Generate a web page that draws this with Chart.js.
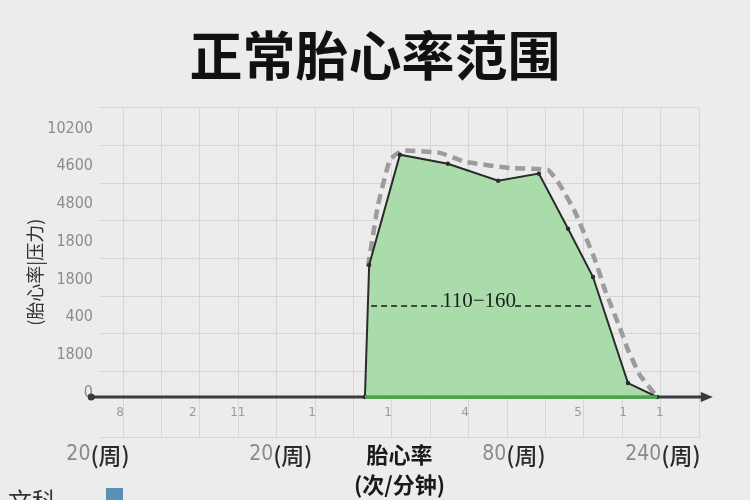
<!DOCTYPE html>
<html>
<head>
<meta charset="utf-8">
<title>正常胎心率范围</title>
<script src="https://cdn.jsdelivr.net/npm/chart.js@4.4.1/dist/chart.umd.min.js"></script>
<style>
    body { margin: 0; background: #ececec; }
    #wrap { width: 750px; height: 500px; }
</style>
</head>
<body>
<div id="wrap"><canvas id="chart"></canvas></div>
<script>
// y tick labels, bottom to top (as printed in the picture)
const yLabels = ['0', '1800', '400', '1800', '1800', '4800', '4600', '10200'];

// main curve (x in grid columns, y in grid rows above the axis)
const heartX = [6.30, 6.41, 7.21, 8.46, 9.77, 10.83, 11.59, 12.24, 13.15, 13.91];
const heartY = [0, 3.50, 6.42, 6.18, 5.73, 5.92, 4.46, 3.18, 0.37, 0];

// grey dashed outline
const outlineX = [6.38, 6.64, 6.95, 7.27, 8.26, 8.91, 10.08, 11.07, 11.38, 11.77, 12.29, 12.55, 12.94, 13.15, 13.46, 13.91];
const outlineY = [3.45, 5.09, 6.29, 6.53, 6.47, 6.23, 6.07, 6.02, 5.62, 4.91, 3.64, 2.84, 1.83, 1.25, 0.58, 0];

// 110-160 band marker
const rangeText = '110\u2212160';
const rangeX = [6.46, 8.33, 9.27, 10.21, 12.21];
const rangeY = [2.41, 2.41, null, 2.41, 2.41];

// small marks under the axis
const minorLabels = ['8', '2', '11', '1', '1', '4', '5', '1', '1'];
const minorPos = [-0.08, 1.82, 2.99, 4.92, 6.90, 8.91, 11.85, 13.02, 13.98];

// bottom labels
const bottomNums = ['20', '20', '80', '240'];
const bottomPos = [-0.65, 4.11, 10.18, 14.06];
const bottomUnit = '(周)';

const legendText = '文科';

function toPoints(xs, ys) {
    return xs.map((x, i) => ({ x: x, y: ys[i] }));
}

const axisPlugin = {
    id: 'axisLine',
    beforeDatasetsDraw(chart) {
        const ctx = chart.ctx;
        const x = chart.scales.x;
        const y = chart.scales.y;
        const y0 = y.getPixelForValue(0);
        const x0 = x.getPixelForValue(-0.83);
        const x1 = x.getPixelForValue(15.36);
        ctx.save();
        ctx.strokeStyle = '#3a3a3a';
        ctx.fillStyle = '#3a3a3a';
        ctx.lineWidth = 3;
        ctx.beginPath();
        ctx.moveTo(x0, y0);
        ctx.lineTo(x1 - 8, y0);
        ctx.stroke();
        ctx.beginPath();
        ctx.moveTo(x1, y0);
        ctx.lineTo(x1 - 12, y0 - 5);
        ctx.lineTo(x1 - 12, y0 + 5);
        ctx.closePath();
        ctx.fill();
        ctx.beginPath();
        ctx.arc(x0, y0, 3.5, 0, Math.PI * 2);
        ctx.fill();
        ctx.restore();
    },
    afterDraw(chart) {
        const ctx = chart.ctx;
        const x = chart.scales.x;
        const y = chart.scales.y;
        ctx.save();

        // 110-160 label
        ctx.fillStyle = '#1e1e1e';
        ctx.font = '21px "Liberation Serif", "DejaVu Serif", serif';
        ctx.textAlign = 'center';
        ctx.textBaseline = 'alphabetic';
        ctx.fillText(rangeText, x.getPixelForValue(rangeX[2]), y.getPixelForValue(rangeY[0]) + 1);

        // small marks below the axis
        ctx.fillStyle = '#9a9a9a';
        ctx.font = '12px "DejaVu Sans", sans-serif';
        ctx.textBaseline = 'middle';
        minorLabels.forEach((t, i) => {
            ctx.fillText(t, x.getPixelForValue(minorPos[i]), y.getPixelForValue(-0.42));
        });

        // bottom labels: grey number + dark unit
        const numFont = '21px "DejaVu Sans Condensed", sans-serif';
        const unitFont = '500 23px "Noto Sans CJK SC", sans-serif';
        ctx.textAlign = 'left';
        bottomNums.forEach((t, i) => {
            ctx.font = numFont;
            const wNum = ctx.measureText(t).width;
            ctx.font = unitFont;
            const wUnit = ctx.measureText(bottomUnit).width;
            const left = x.getPixelForValue(bottomPos[i]) - (wNum + wUnit) / 2;
            ctx.font = numFont;
            ctx.fillStyle = '#8a8a8a';
            ctx.fillText(t, left, 455);
            ctx.font = unitFont;
            ctx.fillStyle = '#2a2a2a';
            ctx.fillText(bottomUnit, left + wNum, 455);
        });

        // legend, cut off by the bottom edge
        ctx.fillStyle = '#333333';
        ctx.font = '24px "Noto Sans CJK SC", sans-serif';
        ctx.textBaseline = 'top';
        ctx.fillText(legendText, 8, 489);
        ctx.fillStyle = '#5a90b5';
        ctx.fillRect(106, 488, 17, 17);

        ctx.restore();
    }
};

const ctx = document.getElementById('chart');

new Chart(ctx, {
    type: 'line',
    data: {
        datasets: [
            {
                data: toPoints([6.30, 13.91], [0, 0]),
                borderColor: '#45a845',
                borderWidth: 3.5,
                pointRadius: 0,
                order: 0
            },
            {
                data: toPoints(rangeX, rangeY),
                borderColor: '#1a1a1a',
                borderWidth: 1.5,
                borderDash: [6, 4],
                pointRadius: 0,
                spanGaps: false,
                order: 1
            },
            {
                data: toPoints(heartX, heartY),
                borderColor: '#2b2b2b',
                borderWidth: 2,
                backgroundColor: '#a9dcaa',
                fill: 'origin',
                pointRadius: 2.2,
                pointBackgroundColor: '#2b2b2b',
                pointBorderWidth: 0,
                tension: 0,
                order: 2
            },
            {
                data: toPoints(outlineX, outlineY),
                borderColor: '#9c9c9c',
                borderWidth: 4.5,
                borderDash: [10, 6],
                pointRadius: 0,
                tension: 0.1,
                order: 3
            }
        ]
    },
    options: {
        responsive: true,
        maintainAspectRatio: false,
        animation: false,
        events: [],
        layout: { padding: 0 },
        plugins: {
            legend: { display: false },
            tooltip: { enabled: false },
            title: {
                display: true,
                text: '正常胎心率范围',
                color: '#111111',
                font: { family: '"Noto Sans CJK SC", sans-serif', size: 53, weight: 'bold', lineHeight: 1.2 },
                padding: { top: 24, bottom: 20 }
            }
        },
        scales: {
            x: {
                type: 'linear',
                min: -0.6,
                max: 15,
                grid: { color: '#d6d6d6', lineWidth: 1, drawTicks: false },
                border: { display: true, color: '#d6d6d6' },
                ticks: { display: false, stepSize: 1, includeBounds: false },
                title: {
                    display: true,
                    text: ['胎心率', '(次/分钟)'],
                    color: '#1a1a1a',
                    font: { family: '"Noto Sans CJK SC", sans-serif', size: 22, weight: 'bold', lineHeight: 1.36 },
                    padding: { top: 0, bottom: 0 }
                },
                afterFit(scale) { scale.height = 63; }
            },
            y: {
                min: -1.06,
                max: 7.67,
                grid: { color: '#d6d6d6', lineWidth: 1, drawTicks: false },
                border: { display: false },
                afterBuildTicks(scale) {
                    scale.ticks = yLabels.map((l, i) => ({ value: i + 0.67 }));
                },
                ticks: {
                    padding: 7,
                    labelOffset: 21,
                    color: '#8c8c8c',
                    font: { family: '"DejaVu Sans Condensed", sans-serif', size: 16 },
                    callback: (value, index) => yLabels[index]
                },
                title: {
                    display: true,
                    text: '(胎心率|压力)',
                    color: '#333333',
                    font: { family: '"Noto Sans CJK SC", sans-serif', size: 18, lineHeight: 1.2 },
                    padding: { top: 24, bottom: 0 }
                },
                afterFit(scale) { scale.width = 100; }
            },
            y2: {
                position: 'right',
                display: true,
                grid: { display: false },
                border: { display: false },
                ticks: { display: false },
                afterFit(scale) { scale.width = 51; }
            }
        }
    },
    plugins: [axisPlugin]
});
</script>
</body>
</html>
